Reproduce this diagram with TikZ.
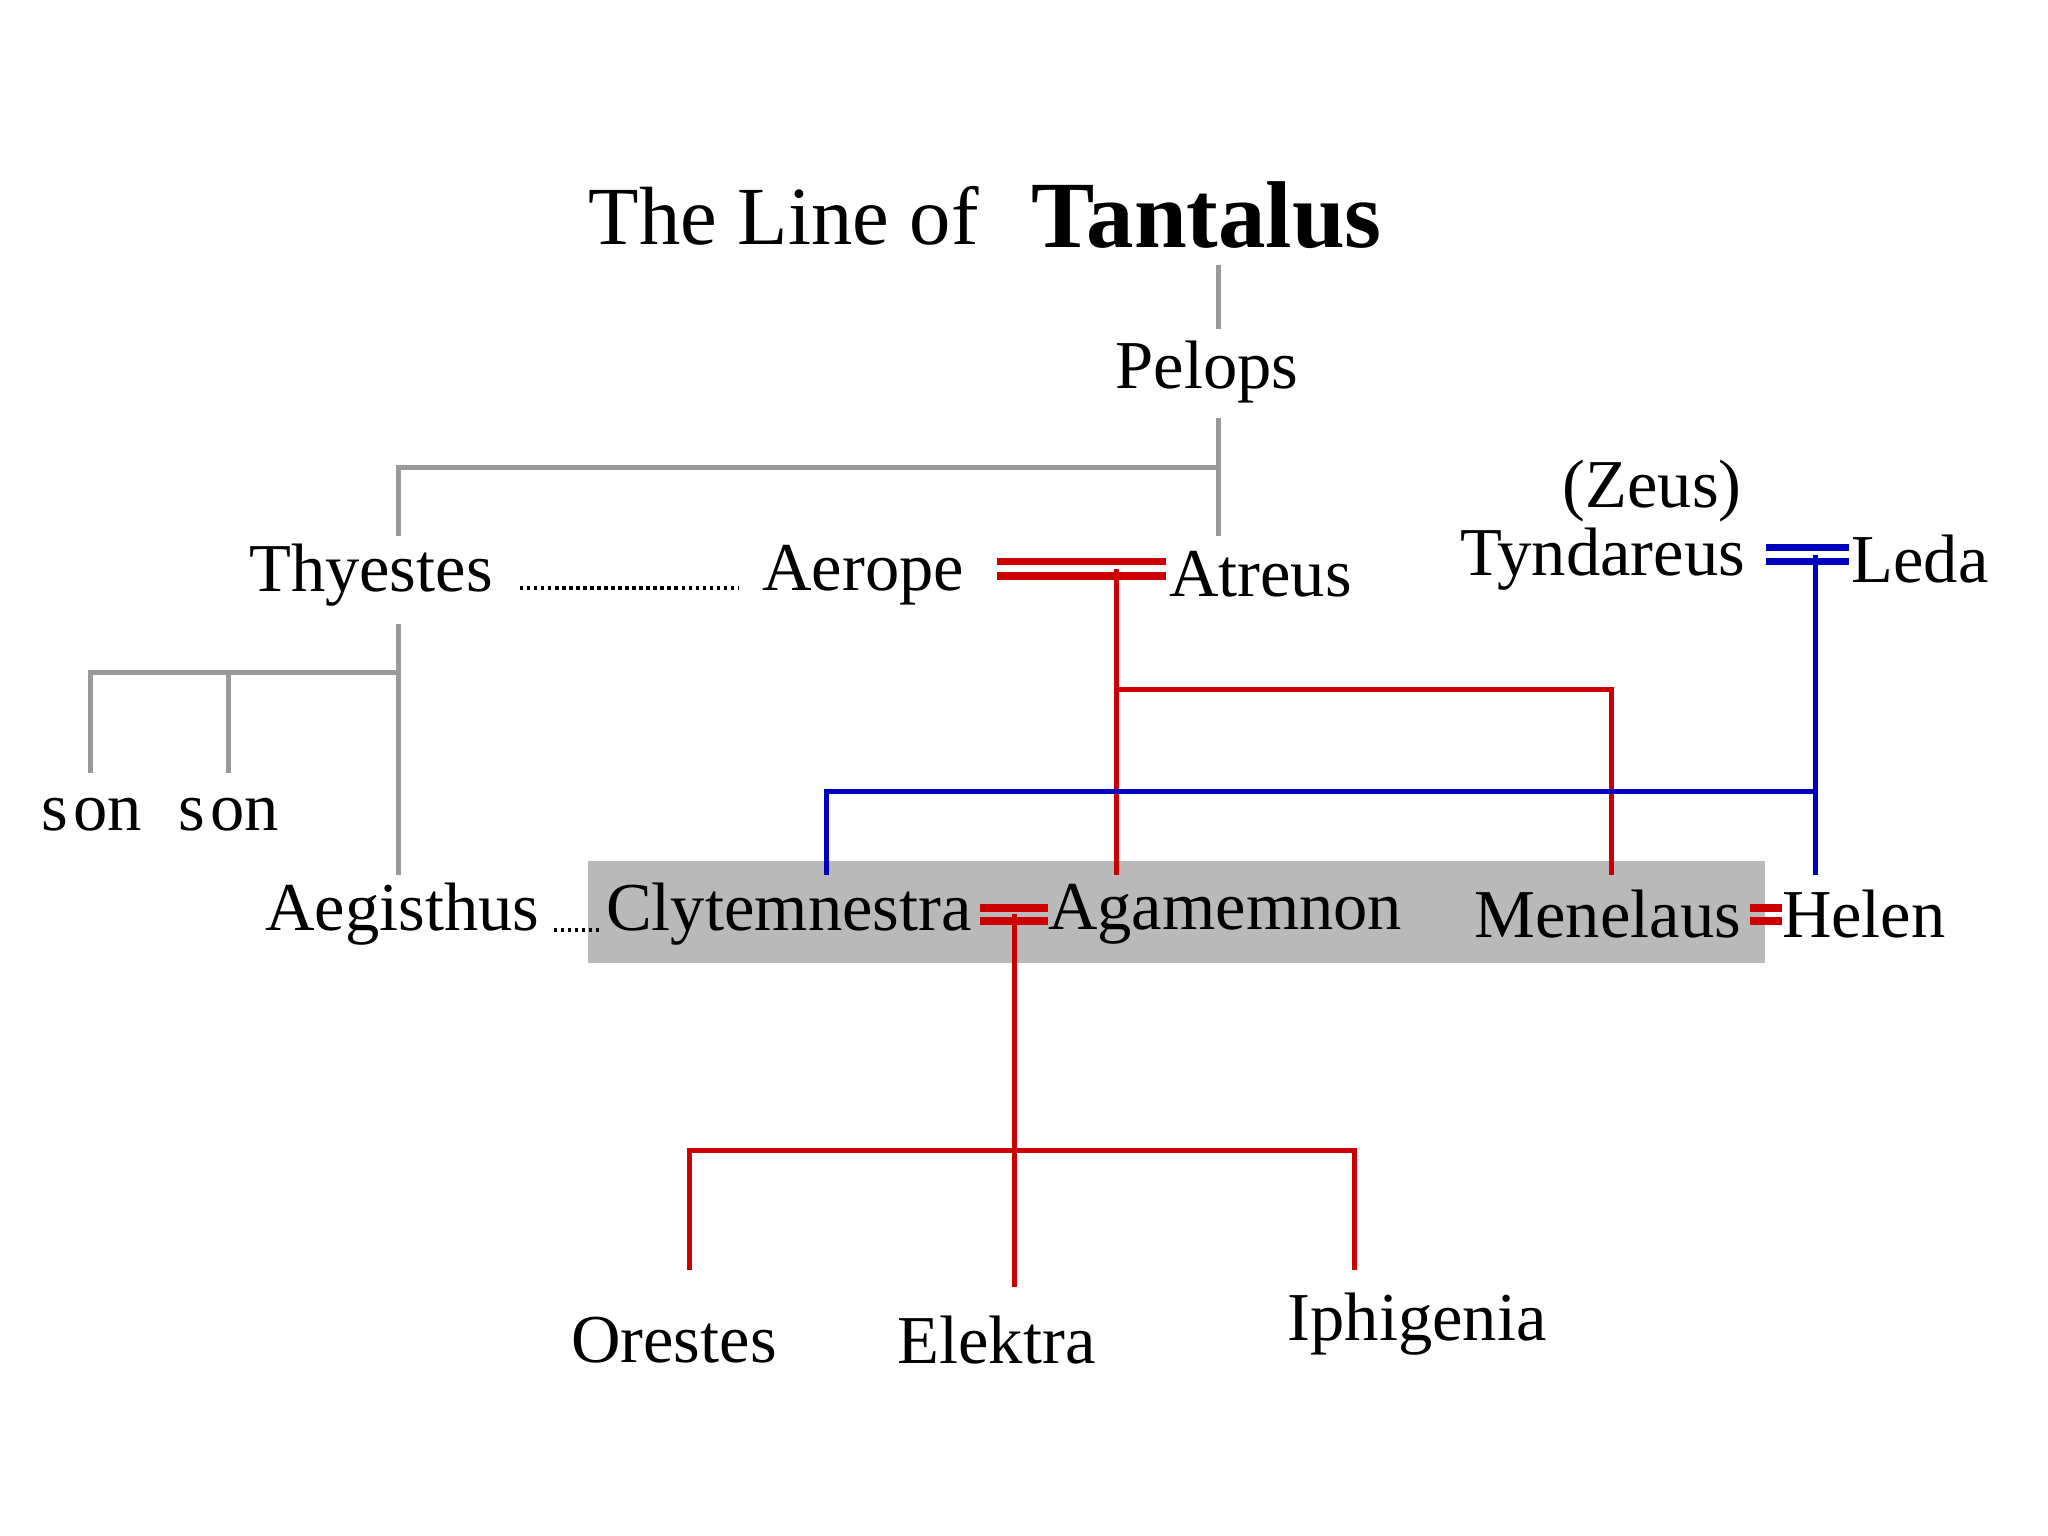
\documentclass[tikz,border=0pt]{standalone}
\usepackage{fontspec}
\setmainfont{Liberation Serif}
\begin{document}
\begin{tikzpicture}[x=0.013061cm,y=-0.013061cm,
  nm/.style={inner sep=0pt,font=\fontsize{19.5}{22}\selectfont},
  gl/.style={draw=gray!80,line width=1.4pt},
  rl/.style={draw=red!80!black,line width=1.4pt},
  rd/.style={draw=red!80!black,line width=2.2pt},
  bl/.style={draw=blue!75!black,line width=1.4pt},
  bd/.style={draw=blue!75!black,line width=2pt},
  dl/.style={draw=black,line width=1.2pt,dash pattern=on 1pt off 1pt}]
\useasboundingbox (0,0) rectangle (1568,1176);
\fill[gray!55] (450,659) rectangle (1351,737);
\node[nm,font=\fontsize{23.5}{27}\selectfont] (t1) at (600,165) {The Line of};
\node[nm,font=\fontsize{27}{31}\selectfont\bfseries] (t2) at (924,165) {Tantalus};
\node[nm] (pel) at (924,285) {Pelops};
\node[nm] (thy) at (284,440) {Thyestes};
\node[nm] (aer) at (661,440) {Aerope};
\node[nm] (atr) at (965,440) {Atreus};
\node[nm] (zeus) at (1265,376) {(Zeus)};
\node[nm] (tyn) at (1227,428) {Tyndareus};
\node[nm] (leda) at (1470,428) {Leda};
\node[nm] (s1) at (70,624) {s\kern1.5pt on};
\node[nm] (s2) at (175,624) {s\kern1.5pt on};
\node[nm] (aeg) at (308,700) {Aegisthus};
\node[nm] (cly) at (604,700) {Clytemnestra};
\node[nm] (aga) at (938,700) {Agamemnon};
\node[nm] (men) at (1231,700) {Menelaus};
\node[nm] (hel) at (1427,700) {Helen};
\node[nm] (ore) at (516,1026) {Orestes};
\node[nm] (ele) at (763,1026) {Elektra};
\node[nm] (iph) at (1085,1014) {Iphigenia};
% gray
\draw[gl] (933,203) -- (933,252);
\draw[gl] (933,320) -- (933,410);
\draw[gl] (933,358) -- (305,358) -- (305,410);
\draw[gl] (305,478) -- (305,670);
\draw[gl] (305,515) -- (69,515) -- (69,592);
\draw[gl] (175,515) -- (175,592);
% dotted
\draw[dl] (398,450) -- (565,450);
\draw[dl] (424,712) -- (460,712);
% red
\draw[rd] (763,430) -- (893,430);
\draw[rd] (763,441) -- (893,441);
\draw[rl] (855,436) -- (855,670);
\draw[rl] (855,528) -- (1234,528) -- (1234,670);
\draw[rd] (750,695) -- (802,695);
\draw[rd] (750,705) -- (802,705);
\draw[rd] (1340,695) -- (1364,695);
\draw[rd] (1340,705) -- (1364,705);
\draw[rl] (777,700) -- (777,985);
\draw[rl] (528,972) -- (528,881) -- (1037,881) -- (1037,972);
% blue
\draw[bd] (1352,419) -- (1416,419);
\draw[bd] (1352,430) -- (1416,430);
\draw[bl] (1390,425) -- (1390,670);
\draw[bl] (1390,606) -- (633,606) -- (633,670);
\end{tikzpicture}
\end{document}
